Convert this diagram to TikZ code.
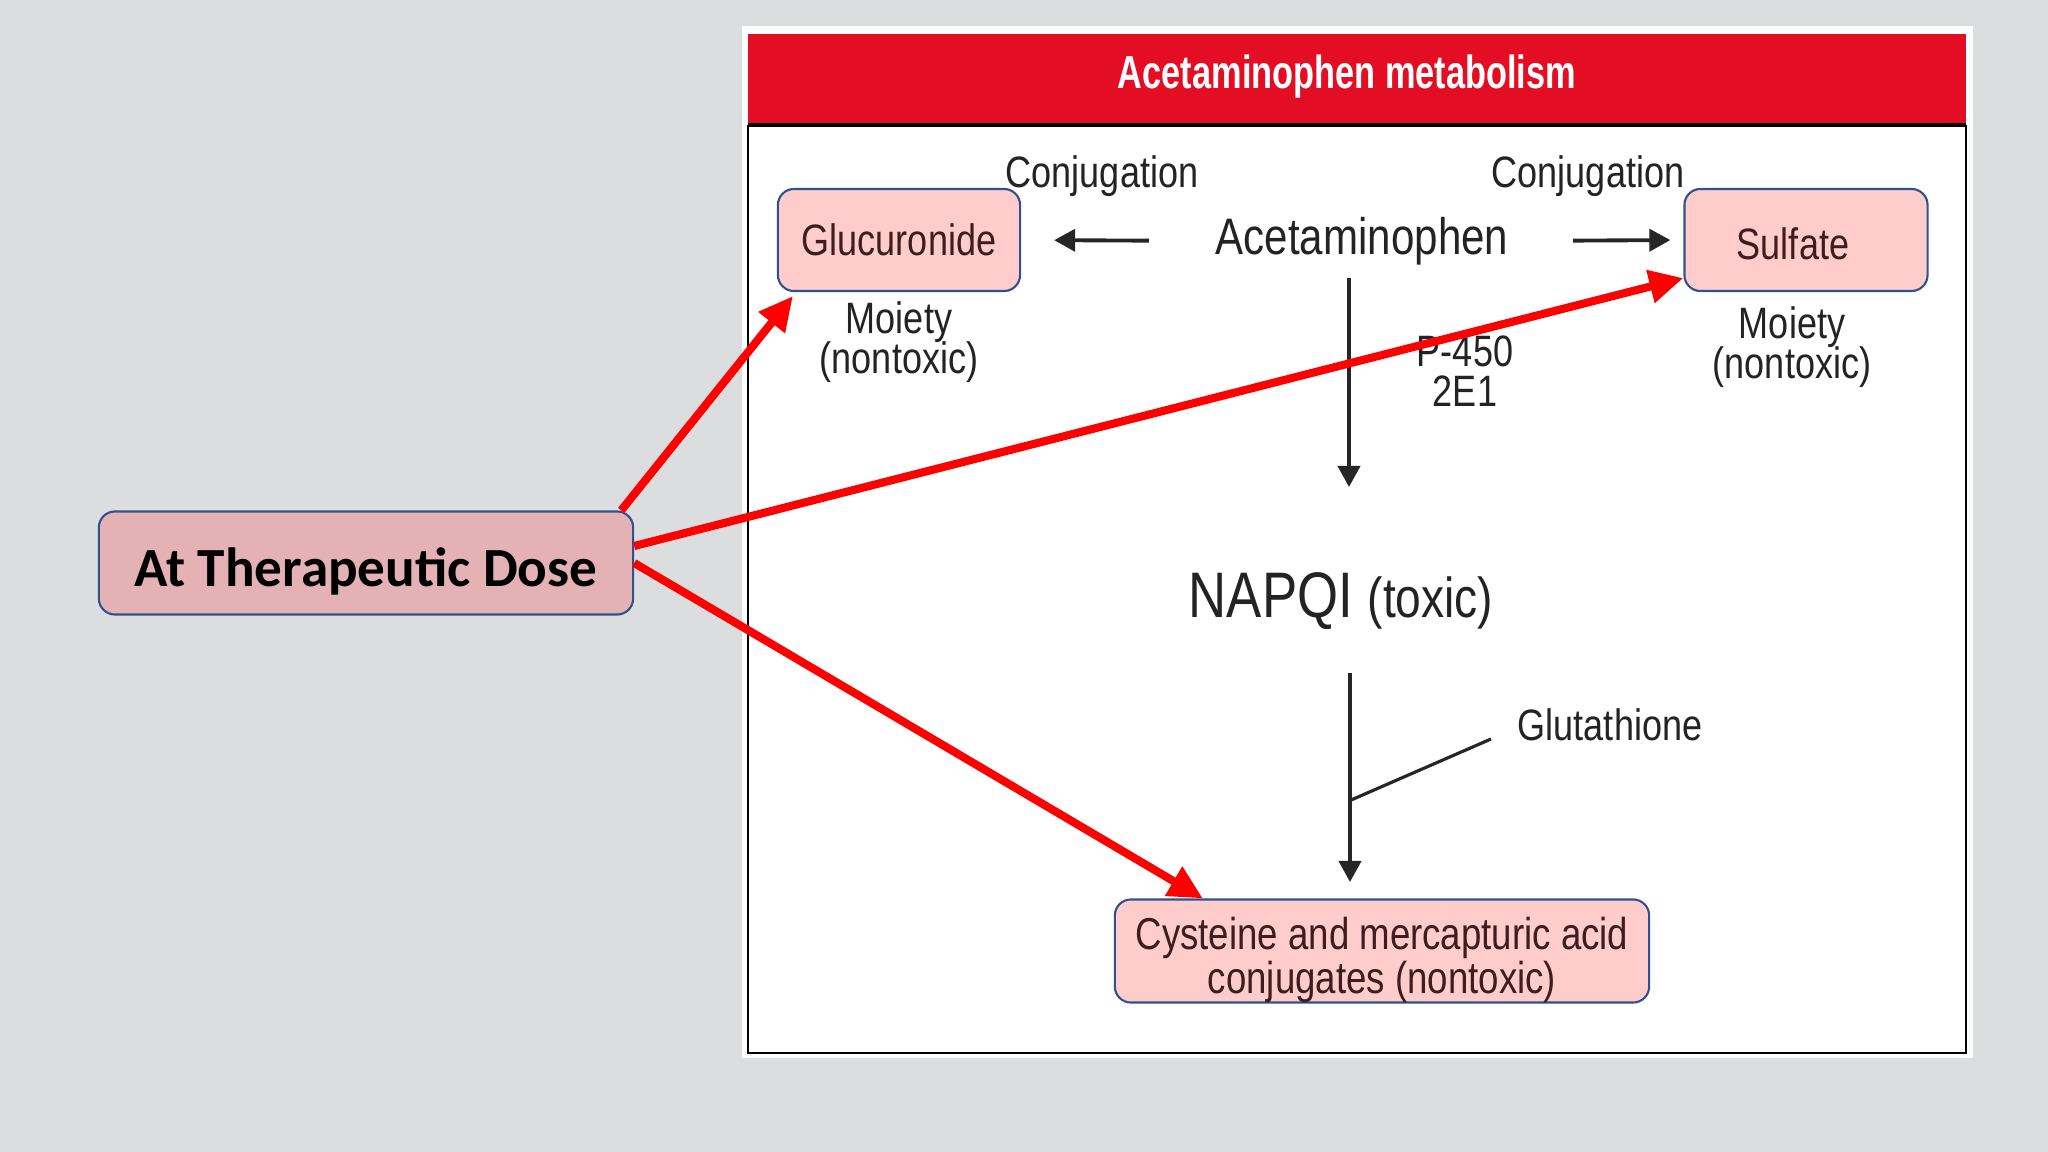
\documentclass[tikz,border=0pt]{standalone}
\usepackage{fontspec}
\usetikzlibrary{arrows.meta}
\setmainfont{Liberation Sans}
\newfontfamily\condfont[FakeStretch=0.82]{Liberation Sans}
\newfontfamily\titlefont[FakeStretch=0.74]{Liberation Sans}
\newfontfamily\dosefont{Carlito}
\setlength{\lineskiplimit}{-10pt}
\definecolor{bggray}{RGB}{220,221,223}
\definecolor{hdrred}{RGB}{228,14,36}
\definecolor{boxpink}{RGB}{255,204,204}
\definecolor{boxblue}{RGB}{47,82,143}
\definecolor{therpink}{RGB}{228,178,180}
\definecolor{txtdark}{RGB}{60,30,30}
\definecolor{txtgray}{RGB}{35,35,35}
\definecolor{arrred}{RGB}{255,0,0}
\tikzset{
	pinkbox/.style={draw=boxblue,line width=0.6pt,fill=boxpink,rounded corners=0.16cm,text=txtdark,font=\condfont\fontsize{12.5}{12.6}\selectfont,align=center,inner sep=0pt},
	lbl/.style={text=txtgray,font=\condfont\fontsize{12.5}{11.4}\selectfont,align=center,inner sep=0pt},
	blkarrow/.style={-{Triangle[length=0.21cm,width=0.22cm]},line width=1.1pt,draw=black!85},
	redarrow/.style={-{Triangle[length=0.34cm,width=0.32cm]},line width=2.3pt,draw=arrred}
}
\begin{document}
\begin{tikzpicture}[x=0.01cm,y=-0.01cm]
	\useasboundingbox (0,0) rectangle (2048,1152);
	\fill[bggray] (0,0) rectangle (2048,1152);
	\fill[white] (742,26) rectangle (1973,1058);
	\fill[hdrred] (748,34) rectangle (1966,125);
	\draw[line width=0.7pt] (748,125) -- (748,1053) -- (1966,1053) -- (1966,125);
	\draw[line width=0.9pt] (748,125) -- (1966,125);
	\node[text=white,font=\titlefont\bfseries\fontsize{13.2}{15}\selectfont] (title) at (1347,77) {Acetaminophen metabolism};
	\node[pinkbox,minimum width=2.42cm,minimum height=1.02cm] (gluc) at (899,240) {Glucuronide};
	\node[pinkbox,minimum width=2.43cm,minimum height=1.02cm,
		label={[name=sulftxt,text=txtdark,font=\condfont\fontsize{12.5}{12.6}\selectfont,xshift=-0.13cm,yshift=-0.04cm]center:Sulfate}] (sulf) at (1806,240) {};
	\node[lbl,font=\condfont\fontsize{14.6}{15}\selectfont] (acet) at (1362,241) {Acetaminophen};
	\node[lbl] (conjl) at (1102,176) {Conjugation};
	\node[lbl] (conjr) at (1588,176) {Conjugation};
	\node[lbl] (moil) at (899,342) {Moiety\\(nontoxic)};
	\node[lbl] (moir) at (1792,347) {Moiety\\(nontoxic)};
	\node[lbl] (p450) at (1465,371) {P-450\\2E1};
	\node[lbl,font=\condfont\fontsize{18.3}{20}\selectfont] (napqi) at (1341,601) {NAPQI {\fontsize{16}{17}\selectfont(toxic)}};
	\node[lbl] (glut) at (1610,725) {Glutathione};
	\node[pinkbox,minimum width=5.34cm,minimum height=1.03cm,
		label={[name=cysttxt,text=txtdark,align=center,font=\condfont\fontsize{12.7}{12.6}\selectfont,yshift=-0.09cm]center:Cysteine and mercapturic acid\\conjugates (nontoxic)}] (cyst) at (1382,951) {};
	\node[draw=boxblue,line width=0.6pt,fill=therpink,rounded corners=0.16cm,inner sep=0pt,minimum width=5.34cm,minimum height=1.03cm,
		label={[name=thertxt,font=\dosefont\bfseries\fontsize{15.7}{18}\selectfont,yshift=-0.08cm]center:At Therapeutic Dose}] (ther) at (366,563) {};
	\draw[blkarrow,shorten <=0.66cm,shorten >=0.33cm] (acet.west) -- (gluc.east);
	\draw[blkarrow,shorten <=0.64cm,shorten >=0.13cm] (acet.east) -- (sulf.west);
	\draw[blkarrow] (1349,278) -- (1349,487);
	\draw[blkarrow] (1350,673) -- coordinate[pos=0.61] (branch) (1350,882);
	\coordinate (gend) at (1491,739);
	\draw[line width=0.9pt,draw=black!85] (branch) -- (gend);
	\draw[redarrow] ([xshift=-0.13cm]ther.north east) -- ([xshift=0.16cm,yshift=-0.04cm]gluc.south west);
	\draw[redarrow] ([yshift=0.17cm]ther.east) -- ([yshift=0.14cm]sulf.south west);
	\draw[redarrow] (ther.east) -- ([xshift=0.89cm]cyst.north west);
\end{tikzpicture}
\end{document}
